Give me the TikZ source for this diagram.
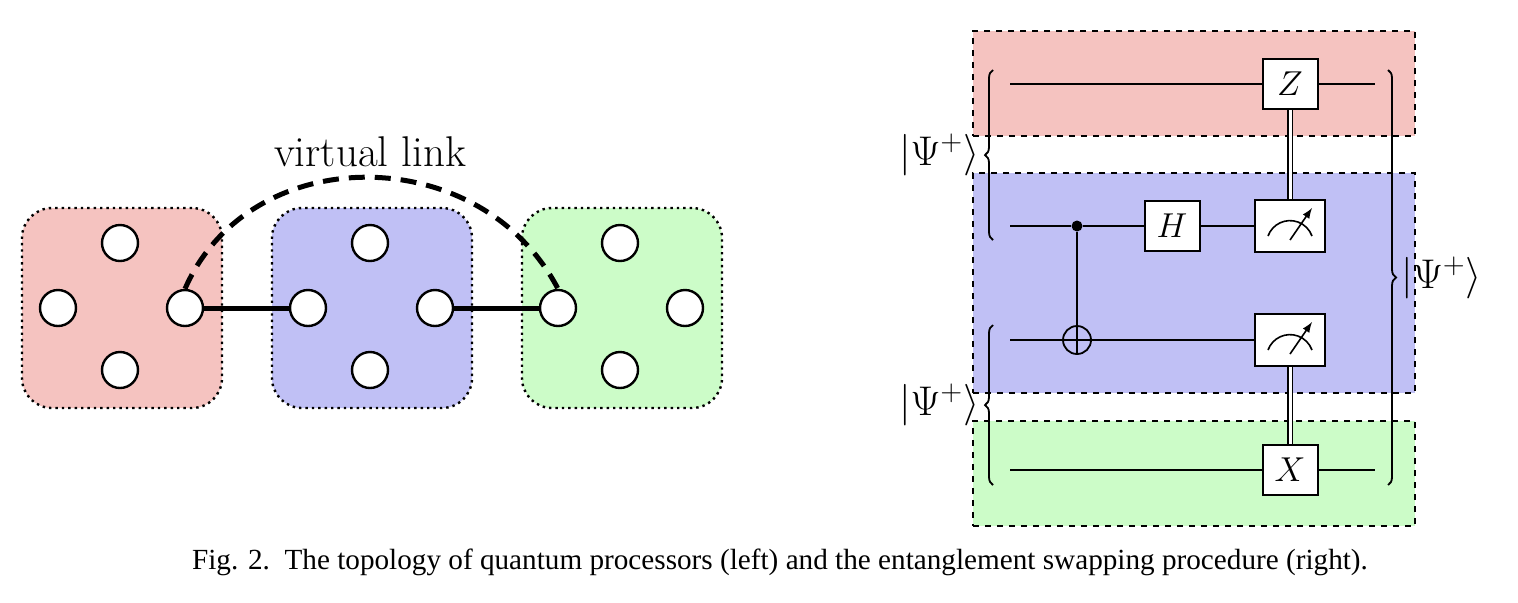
\documentclass[tikz,border=0pt]{standalone}
\usepackage{amsmath,amssymb}
\usepackage{fontspec}
\newfontfamily\capfont{Liberation Serif}
\usetikzlibrary{decorations.pathreplacing}
\newcommand{\kett}[1]{\ensuremath{\left|#1\right\rangle}}
\definecolor{procred}{RGB}{245,195,192}
\definecolor{procblue}{RGB}{192,192,245}
\definecolor{procgreen}{RGB}{204,252,200}
\tikzset{
  qubit/.style={circle,draw,line width=1.2pt,fill=white,minimum size=18pt,inner sep=0},
  proc/.style={draw,line width=1.2pt,dotted,rounded corners=15pt,minimum width=100pt,minimum height=100pt},
  region/.style={draw,line width=1pt,dashed,anchor=north west},
  gate/.style={draw,line width=1pt,fill=white,minimum width=27.5pt,minimum height=25pt,inner sep=0,font=\fontsize{19}{21}\selectfont},
  meter/.style={draw,line width=1pt,fill=white,minimum width=35pt,minimum height=26pt,inner sep=0},
  big/.style={font=\fontsize{16}{18}\selectfont},
  huge/.style={font=\fontsize{21.5}{24}\selectfont},
}
\begin{document}
\begin{tikzpicture}[x=0.5pt,y=-0.5pt,line width=0.8pt,big]
\useasboundingbox (0,0) rectangle (1518,602);
%processors
\node[proc,fill=procred] (pr) at (122,308) {};
\node[proc,fill=procblue] (pb) at (372,308) {};
\node[proc,fill=procgreen] (pg) at (622,308) {};
\foreach \p/\x in {r/120,b/370,g/620}{
  \node[qubit] (\p1) at (\x,243) {};
  \node[qubit] (\p2) at (\x-62,308) {};
  \node[qubit] (\p3) at (\x+65,308) {};
  \node[qubit] (\p4) at (\x,370) {};
}
\draw[line width=2.5pt] (r3) -- (b2);
\draw[line width=2.5pt] (b3) -- (g2);
\draw[line width=2.5pt,dash pattern=on 8pt off 5pt] (r3.north) .. controls (250,140) and (480,140) .. (g2.north);
\node[huge] (vl) at (370,152) {virtual link};
%circuit regions
\node[region,fill=procred,minimum width=221pt,minimum height=52.5pt] (cr) at (972,30) {};
\node[region,fill=procblue,minimum width=221pt,minimum height=110pt] (cb) at (972,172) {};
\node[region,fill=procgreen,minimum width=221pt,minimum height=52.5pt] (cg) at (972,420) {};
%wires
\coordinate (w1a) at (1010,84); \coordinate (w1b) at (1375,84);
\coordinate (w2a) at (1010,226);
\coordinate (w3a) at (1010,340);
\coordinate (w4a) at (1010,470); \coordinate (w4b) at (1375,470);
\node[gate] (z) at (1290,84) {$Z$};
\node[gate] (h) at (1172,226) {$H$};
\node[meter] (m1) at (1290,226) {};
\node[meter] (m2) at (1290,340) {};
\node[gate] (x) at (1290,470) {$X$};
\node[circle,fill,inner sep=0,minimum size=5.5pt] (ctl) at (1077,226) {};
\node[circle,draw,line width=0.9pt,minimum size=14pt,inner sep=0] (tgt) at (1077,340) {};
\draw (w1a) -- (z) -- (w1b);
\draw (w2a) -- (ctl) -- (h) -- (m1);
\draw (w3a) -- (tgt) -- (m2);
\draw (w4a) -- (x) -- (w4b);
\draw (ctl) -- (tgt.south);
\draw (tgt.west) -- (tgt.east);
\draw[double,double distance=1.5pt] (m1) -- (z);
\draw[double,double distance=1.5pt] (m2) -- (x);
%meter symbols
\foreach \m in {m1,m2}{
  \draw ([xshift=-11pt,yshift=-5pt]\m.center) arc[start angle=160,end angle=20,radius=11.7pt];
  \draw[-latex] ([yshift=-7pt]\m.center) -- ([xshift=11pt,yshift=9pt]\m.center);
}
%braces
\draw[line width=0.9pt,decorate,decoration={brace,amplitude=4pt}] (993,240) -- (993,70) node[midway,left=3pt,huge] (b1) {\kett{\Psi^{+}}};
\draw[line width=0.9pt,decorate,decoration={brace,amplitude=4pt}] (993,485) -- (993,325) node[midway,left=3pt,huge] (b2) {\kett{\Psi^{+}}};
\draw[line width=0.9pt,decorate,decoration={brace,amplitude=4pt}] (1388,70) -- (1388,485) node[midway,right=3pt,huge] (b3) {\kett{\Psi^{+}}};
%caption
\node[font=\capfont\fontsize{14.6}{16}\selectfont] (cap) at (780,562) {Fig. 2.\ \ The topology of quantum processors (left) and the entanglement swapping procedure (right).};
\end{tikzpicture}
\end{document}
